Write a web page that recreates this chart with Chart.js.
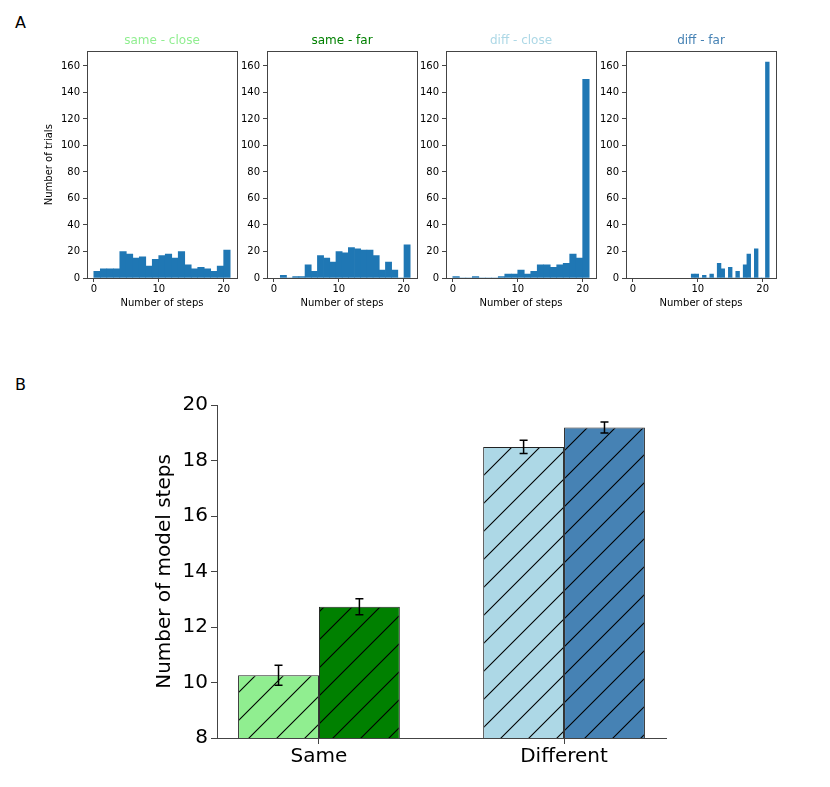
<!DOCTYPE html>
<html>
<head>
<meta charset="utf-8">
<script src="https://cdn.jsdelivr.net/npm/chart.js@4.4.0/dist/chart.umd.min.js"></script>
<style>
  body { margin: 0; background: #fff; width: 830px; height: 787px; position: relative; overflow: hidden; font-family: 'DejaVu Sans'; }
  canvas { position: absolute; }
  .lbl { position: absolute; font-size: 16px; color: #000; }
</style>
</head>
<body>
<div class="lbl" style="left:15px;top:13px">A</div>
<div class="lbl" style="left:15px;top:375px">B</div>
<canvas id="h0"></canvas>
<canvas id="h1"></canvas>
<canvas id="h2"></canvas>
<canvas id="h3"></canvas>
<canvas id="bars"></canvas>
<script>
// --- panel A: histograms of number of steps
const histTitles = ["same - close", "same - far", "diff - close", "diff - far"];
const histColors = ["#90ee90", "#008000", "#add8e6", "#4682b4"];
const sameCloseCounts = [5, 7, 7, 7, 20, 18, 15, 16, 9, 14, 17, 18, 15, 20, 10, 7, 8, 7, 5, 9, 21];
const sameFarCounts = [2, 0, 1, 1, 10, 5, 17, 15, 12, 20, 19, 23, 22, 21, 21, 17, 6, 12, 6, 0, 25];
const diffCloseCounts = [1, 0, 0, 1, 0, 0, 0, 1, 3, 3, 6, 3, 5, 10, 10, 8, 10, 11, 18, 15, 150];
const diffFarCounts = [3, 3, 0, 2, 0, 3, 0, 11, 7, 0, 8, 0, 5, 0, 10, 18, 0, 22, 0, 0, 163];
const binRanges = [[0, 21], [1, 21], [0, 21], [9, 21]];
const histXTicks = [0, 10, 20];
const histYTicks = [0, 20, 40, 60, 80, 100, 120, 140, 160];

// --- panel B: mean model steps
const groupLabels = ["Same", "Different"];
const groupPos = [0, 1];
const closeMeans = [10.26, 18.49];
const closeErr = [0.36, 0.24];
const farMeans = [12.73, 19.19];
const farErr = [0.29, 0.2];
const barYTicks = [8, 10, 12, 14, 16, 18, 20];

Chart.defaults.font.family = "'DejaVu Sans'";
Chart.defaults.color = "#000";

const axisColor = "#444";

// box round the histogram axes (top and right spines)
const framePlugin = {
  id: "frame",
  afterDraw(chart, args, opts) {
    const a = chart.chartArea, ctx = chart.ctx;
    ctx.save();
    ctx.strokeStyle = opts.color || axisColor;
    ctx.lineWidth = 1;
    ctx.strokeRect(Math.round(a.left) + 0.5, Math.round(a.top) + 0.5,
      Math.round(a.right - a.left), Math.round(a.bottom - a.top));
    ctx.restore();
  }
};

// error bars
const errPlugin = {
  id: "errbars",
  afterDatasetsDraw(chart, args, opts) {
    const ys = chart.scales.y, ctx = chart.ctx;
    ctx.save();
    ctx.strokeStyle = "#000";
    ctx.lineWidth = 1.5;
    chart.data.datasets.forEach((ds, di) => {
      chart.getDatasetMeta(di).data.forEach((bar, k) => {
        const v = ds.data[k].y, e = opts.errors[di][k];
        const x = bar.x;
        const y1 = ys.getPixelForValue(v + e), y2 = ys.getPixelForValue(v - e);
        ctx.beginPath();
        ctx.moveTo(x, y1); ctx.lineTo(x, y2);
        ctx.moveTo(x - 4, y1); ctx.lineTo(x + 4, y1);
        ctx.moveTo(x - 4, y2); ctx.lineTo(x + 4, y2);
        ctx.stroke();
      });
    });
    ctx.restore();
  }
};

function hatch(color) {
  const s = 28;
  const c = document.createElement("canvas");
  c.width = s; c.height = s;
  const g = c.getContext("2d");
  g.fillStyle = color;
  g.fillRect(0, 0, s, s);
  g.strokeStyle = "#000";
  g.lineWidth = 1.1;
  g.beginPath();
  g.moveTo(0, s); g.lineTo(s, 0);
  g.moveTo(-1, 1); g.lineTo(1, -1);
  g.moveTo(s - 1, s + 1); g.lineTo(s + 1, s - 1);
  g.stroke();
  return g.createPattern(c, "repeat");
}

function place(id, left, top, w, h) {
  const c = document.getElementById(id);
  c.width = w; c.height = h;
  c.style.left = left + "px"; c.style.top = top + "px";
  c.style.width = w + "px"; c.style.height = h + "px";
  return c;
}

// histograms
const allCounts = [sameCloseCounts, sameFarCounts, diffCloseCounts, diffFarCounts];
const histLefts = [87, 267, 446, 626];

allCounts.forEach((counts, i) => {
  const [lo, hi] = binRanges[i];
  const w = (hi - lo) / counts.length;
  const pts = counts.map((c, k) => ({ x: lo + (k + 0.5) * w, y: c }));
  const yW = i === 0 ? 48 : 30;
  const canvas = place("h" + i, histLefts[i] - yW, 34, yW + 150 + 4, 278);

  new Chart(canvas, {
    type: "bar",
    data: {
      datasets: [{
        data: pts,
        backgroundColor: "#1f77b4",
        borderWidth: 0,
        barPercentage: 1,
        categoryPercentage: 1
      }]
    },
    options: {
      responsive: false,
      animation: false,
      layout: { padding: { top: 0, right: 4, bottom: 0, left: 0 } },
      plugins: {
        legend: { display: false },
        tooltip: { enabled: false },
        title: {
          display: true,
          fullSize: false,
          text: histTitles[i],
          color: histColors[i],
          font: { size: 12, weight: "normal" },
          padding: { top: 0, bottom: 3 }
        },
        frame: { color: axisColor }
      },
      scales: {
        x: {
          type: "linear",
          offset: false,
          min: -1.05,
          max: 22.05,
          afterBuildTicks: (s) => { s.ticks = histXTicks.map((v) => ({ value: v })); },
          afterFit: (s) => { s.height = 34; },
          grid: { offset: false, drawOnChartArea: false, tickLength: 4, color: axisColor },
          border: { color: axisColor },
          ticks: { font: { size: 10 }, padding: 1, maxRotation: 0 },
          title: { display: true, text: "Number of steps", font: { size: 10 }, padding: { top: 0, bottom: 3 } }
        },
        y: {
          min: 0,
          max: 171,
          afterBuildTicks: (s) => { s.ticks = histYTicks.map((v) => ({ value: v })); },
          afterFit: (s) => { s.width = yW; },
          grid: { drawOnChartArea: false, tickLength: 4, color: axisColor },
          border: { color: axisColor },
          ticks: { font: { size: 10 }, padding: 3 },
          title: { display: i === 0, text: "Number of trials", font: { size: 10 }, padding: { top: 4, bottom: 0 } }
        }
      }
    },
    plugins: [framePlugin]
  });
});

// bar chart
const barCanvas = place("bars", 149, 390, 527, 388);
new Chart(barCanvas, {
  type: "bar",
  data: {
    datasets: [
      {
        data: groupPos.map((x, k) => ({ x: x, y: closeMeans[k] })),
        backgroundColor: [hatch("#90ee90"), hatch("#add8e6")],
        borderColor: "#222",
        borderWidth: 1,
        borderSkipped: false,
        barPercentage: 1,
        categoryPercentage: 0.66
      },
      {
        data: groupPos.map((x, k) => ({ x: x, y: farMeans[k] })),
        backgroundColor: [hatch("#008000"), hatch("#4682b4")],
        borderColor: "#222",
        borderWidth: 1,
        borderSkipped: false,
        barPercentage: 1,
        categoryPercentage: 0.66
      }
    ]
  },
  options: {
    responsive: false,
    animation: false,
    layout: { padding: { top: 15, right: 10, bottom: 0, left: 0 } },
    plugins: {
      legend: { display: false },
      tooltip: { enabled: false },
      errbars: { errors: [closeErr, farErr] }
    },
    scales: {
      x: {
        type: "linear",
        offset: false,
        min: -0.416,
        max: 1.416,
        afterBuildTicks: (s) => { s.ticks = groupPos.map((v) => ({ value: v })); },
        afterFit: (s) => { s.height = 40; },
        grid: { offset: false, drawOnChartArea: false, tickLength: 6, color: axisColor },
        border: { color: axisColor },
        ticks: {
          font: { size: 20 },
          padding: 1,
          maxRotation: 0,
          callback: (v) => groupLabels[groupPos.indexOf(v)]
        }
      },
      y: {
        min: 8,
        max: 20,
        afterBuildTicks: (s) => { s.ticks = barYTicks.map((v) => ({ value: v })); },
        afterFit: (s) => { s.width = 68; },
        grid: { drawOnChartArea: false, tickLength: 6, color: axisColor },
        border: { color: axisColor },
        ticks: { font: { size: 20 }, padding: 3 },
        title: { display: true, text: "Number of model steps", font: { size: 20 }, padding: { top: 4, bottom: 0 } }
      }
    }
  },
  plugins: [errPlugin]
});
</script>
</body>
</html>
